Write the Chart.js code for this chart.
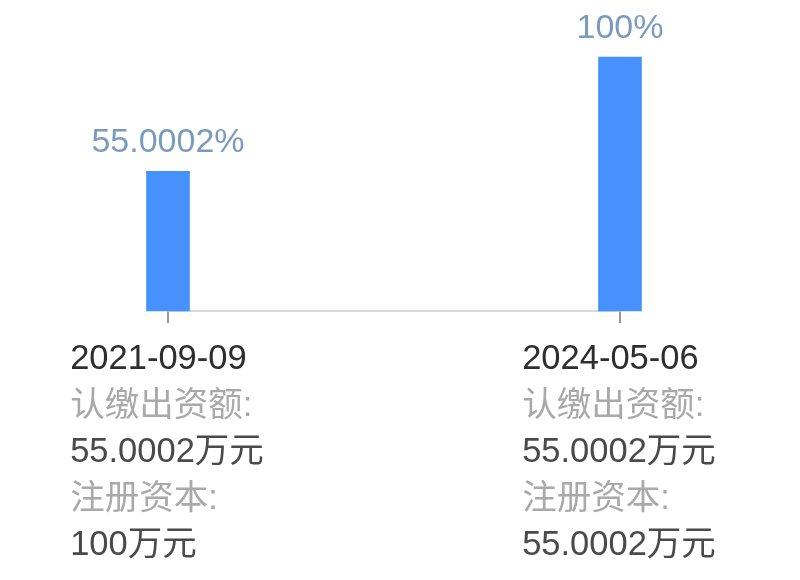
<!DOCTYPE html>
<html>
<head>
<meta charset="utf-8">
<script src="https://cdn.jsdelivr.net/npm/chart.js@4/dist/chart.umd.min.js"></script>
<style>
  html, body { margin: 0; padding: 0; background: #fff; }
  #wrap { width: 800px; height: 580px; }
</style>
</head>
<body>
<div id="wrap"><canvas id="chart"></canvas></div>
<script>
const dates = ["2021-09-09", "2024-05-06"];
const percents = [55.0002, 100];
const subscribed = ["55.0002万元", "55.0002万元"];
const registered = ["100万元", "55.0002万元"];
const captionSub = "认缴出资额:";
const captionReg = "注册资本:";

const FONT = "'Liberation Sans', 'Noto Sans CJK SC', sans-serif";

// value labels above each bar
const barLabels = {
  id: "barLabels",
  afterDatasetsDraw(chart) {
    const ctx = chart.ctx;
    const meta = chart.getDatasetMeta(0);
    ctx.save();
    ctx.font = "34px " + FONT;
    ctx.fillStyle = "#7a9bbf";
    ctx.textAlign = "center";
    ctx.textBaseline = "alphabetic";
    meta.data.forEach((bar, i) => {
      ctx.fillText(percents[i] + "%", bar.x, bar.y - 19);
    });
    ctx.restore();
  }
};

// multi-line, multi-colour labels under the x axis
const axisLabels = {
  id: "axisLabels",
  afterDraw(chart) {
    const ctx = chart.ctx;
    const x = chart.scales.x;
    const base = chart.scales.y.getPixelForValue(0);
    ctx.save();
    ctx.font = "34.5px " + FONT;
    ctx.textAlign = "left";
    ctx.textBaseline = "alphabetic";
    dates.forEach((d, i) => {
      const lines = [
        [d, "#2e2e2e"],
        [captionSub, "#a9a9a9"],
        [subscribed[i], "#4a4a4a"],
        [captionReg, "#a9a9a9"],
        [registered[i], "#4a4a4a"]
      ];
      const w = Math.max(...lines.map(l => ctx.measureText(l[0]).width));
      const left = x.getPixelForValue(i) - w / 2 - 1;
      lines.forEach((l, k) => {
        ctx.fillStyle = l[1];
        ctx.fillText(l[0], left, base + 58 + k * 46.5);
      });
    });
    ctx.restore();
  }
};

new Chart(document.getElementById("chart"), {
  type: "bar",
  data: {
    labels: dates,
    datasets: [{
      data: percents,
      backgroundColor: "#4691fb",
      barThickness: 43,
      clip: false
    }]
  },
  options: {
    responsive: true,
    maintainAspectRatio: false,
    animation: false,
    layout: { padding: { left: 168, right: 180, top: 57, bottom: 257 } },
    plugins: { legend: { display: false }, tooltip: { enabled: false } },
    scales: {
      x: {
        offset: false,
        grid: { display: true, offset: false, drawOnChartArea: false, drawTicks: true, tickLength: 12, color: "#999999", lineWidth: 2 },
        border: { display: true, color: "#dadada", width: 2 },
        ticks: { display: false }
      },
      y: {
        display: false,
        min: 0,
        max: 100
      }
    }
  },
  plugins: [barLabels, axisLabels]
});
</script>
</body>
</html>
